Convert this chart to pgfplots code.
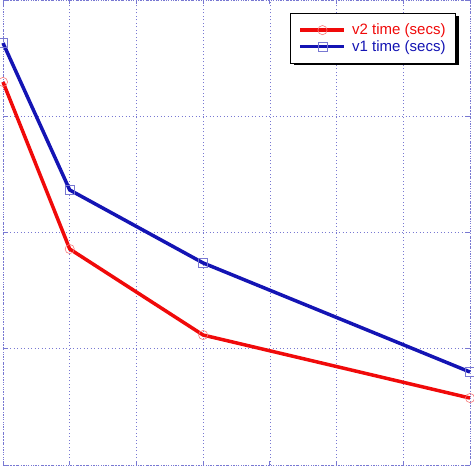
\documentclass[border=0pt]{standalone}
\usepackage{pgfplots}
\pgfplotsset{compat=1.18}
\usepackage{fontspec}
\setmainfont{Liberation Sans}

\definecolor{v2red}{RGB}{240,10,10}
\definecolor{v1blue}{RGB}{20,20,180}
\definecolor{gridblue}{RGB}{120,120,210}

\begin{document}
\begin{tikzpicture}
\begin{axis}[
    scale only axis,
    width=467pt, height=465pt,
    xmin=1, xmax=8,
    ymin=0, ymax=4,
    xtick={1,...,8},
    ytick={0,1,2,3,4},
    xticklabels={}, yticklabels={},
    grid=major,
    grid style={gridblue, dash pattern=on 1pt off 2.5pt, line width=0.6pt},
    axis line style={gridblue, dash pattern=on 1pt off 1.5pt, line width=0.9pt},
    tick style={gridblue, solid, line width=0.8pt},
    major tick length=4pt,
    clip=false,
    legend cell align=left,
    legend style={
        at={(0.970,0.972)}, anchor=north east,
        draw=black, thick, fill=white,
        inner xsep=8pt, inner ysep=8.5pt,
        font=\fontsize{15}{19}\selectfont,
        /tikz/every odd column/.append style={column sep=4pt},
    },
    legend image code/.code={
        \draw[#1, mark=none] (0pt,0pt) -- (44pt,0pt);
        \draw[#1, only marks] plot coordinates {(22pt,0pt)};
    },
]
% legend shadow
\fill[black] (rel axis cs:0.6231,0.8602) rectangle (rel axis cs:0.9764,0.9656);

\addplot[color=v2red, line width=3.5pt, mark=o,
    mark options={solid, fill=white, line width=0.6pt, draw=v2red!55}, mark size=4.6pt]
    coordinates {(1,3.295) (2,1.858) (4,1.118) (8,0.576)};
\addlegendentry{\textcolor{v2red}{v2 time (secs)}}

\addplot[color=v1blue, line width=3.5pt, mark=square,
    mark options={solid, fill=white, line width=0.6pt, draw=gridblue}, mark size=4.6pt]
    coordinates {(1,3.63) (2,2.366) (4,1.738) (8,0.80)};
\addlegendentry{\textcolor{v1blue}{v1 time (secs)}}
\end{axis}
\pgfresetboundingbox
\path ([shift={(-3pt,-1pt)}]current axis.south west) rectangle ([shift={(4pt,0pt)}]current axis.north east);
\end{tikzpicture}
\end{document}
